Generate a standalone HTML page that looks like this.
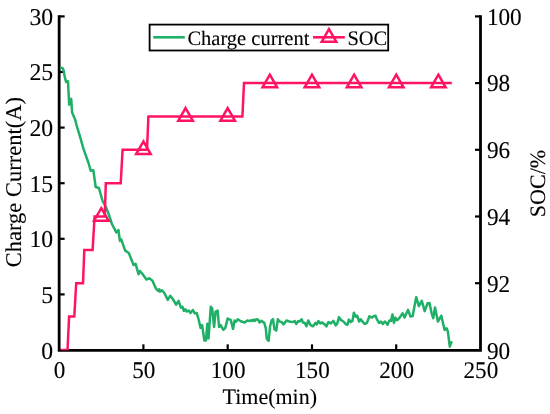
<!DOCTYPE html><html><head><meta charset="utf-8"><title>Charge current and SOC</title>
<style>html,body{margin:0;padding:0;background:#fff}svg{display:block}text{font-family:"Liberation Serif","DejaVu Serif",serif;fill:#000;stroke:#000;stroke-width:0.1px;text-rendering:geometricPrecision}</style></head><body>
<svg width="550" height="414" viewBox="0 0 550 414">
<rect width="550" height="414" fill="#fff"/>
<path d="M59.15 15.299999999999999 V350.3 H480.5 V15.299999999999999" stroke="#000" stroke-width="2.8" fill="none" stroke-linejoin="miter"/>
<text transform="translate(53.1 359.1) scale(0.98 1)" font-size="24.2" text-anchor="end">0</text>
<line x1="59.15" x2="64.65" y1="294.4" y2="294.4" stroke="#000" stroke-width="2.2"/>
<text transform="translate(53.1 302.7) scale(0.98 1)" font-size="24.2" text-anchor="end">5</text>
<line x1="59.15" x2="64.65" y1="238.8" y2="238.8" stroke="#000" stroke-width="2.2"/>
<text transform="translate(53.1 247.1) scale(0.98 1)" font-size="24.2" text-anchor="end">10</text>
<line x1="59.15" x2="64.65" y1="183.2" y2="183.2" stroke="#000" stroke-width="2.2"/>
<text transform="translate(53.1 191.5) scale(0.98 1)" font-size="24.2" text-anchor="end">15</text>
<line x1="59.15" x2="64.65" y1="127.6" y2="127.6" stroke="#000" stroke-width="2.2"/>
<text transform="translate(53.1 135.9) scale(0.98 1)" font-size="24.2" text-anchor="end">20</text>
<line x1="59.15" x2="64.65" y1="72.0" y2="72.0" stroke="#000" stroke-width="2.2"/>
<text transform="translate(53.1 80.3) scale(0.98 1)" font-size="24.2" text-anchor="end">25</text>
<line x1="59.15" x2="64.65" y1="16.4" y2="16.4" stroke="#000" stroke-width="2.2"/>
<text transform="translate(53.1 24.7) scale(0.98 1)" font-size="24.2" text-anchor="end">30</text>
<text transform="translate(486.9 359.1) scale(0.96 1)" font-size="24.2">90</text>
<line x1="480.5" x2="475.0" y1="283.2" y2="283.2" stroke="#000" stroke-width="2.2"/>
<text transform="translate(486.9 291.5) scale(0.96 1)" font-size="24.2">92</text>
<line x1="480.5" x2="475.0" y1="216.5" y2="216.5" stroke="#000" stroke-width="2.2"/>
<text transform="translate(486.9 224.8) scale(0.96 1)" font-size="24.2">94</text>
<line x1="480.5" x2="475.0" y1="149.8" y2="149.8" stroke="#000" stroke-width="2.2"/>
<text transform="translate(486.9 158.1) scale(0.96 1)" font-size="24.2">96</text>
<line x1="480.5" x2="475.0" y1="83.1" y2="83.1" stroke="#000" stroke-width="2.2"/>
<text transform="translate(486.9 91.4) scale(0.96 1)" font-size="24.2">98</text>
<line x1="480.5" x2="475.0" y1="16.4" y2="16.4" stroke="#000" stroke-width="2.2"/>
<text transform="translate(486.9 24.7) scale(0.96 1)" font-size="24.2">100</text>
<text transform="translate(59.5 378.1) scale(0.97 1)" font-size="23.9" text-anchor="middle">0</text>
<line x1="143.4" x2="143.4" y1="349.95" y2="344.34999999999997" stroke="#000" stroke-width="2.2"/>
<text transform="translate(143.8 378.1) scale(0.97 1)" font-size="23.9" text-anchor="middle">50</text>
<line x1="227.7" x2="227.7" y1="349.95" y2="344.34999999999997" stroke="#000" stroke-width="2.2"/>
<text transform="translate(228.1 378.1) scale(0.97 1)" font-size="23.9" text-anchor="middle">100</text>
<line x1="312.0" x2="312.0" y1="349.95" y2="344.34999999999997" stroke="#000" stroke-width="2.2"/>
<text transform="translate(312.4 378.1) scale(0.97 1)" font-size="23.9" text-anchor="middle">150</text>
<line x1="396.2" x2="396.2" y1="349.95" y2="344.34999999999997" stroke="#000" stroke-width="2.2"/>
<text transform="translate(396.6 378.1) scale(0.97 1)" font-size="23.9" text-anchor="middle">200</text>
<text transform="translate(480.9 378.1) scale(0.97 1)" font-size="23.9" text-anchor="middle">250</text>
<polyline fill="none" stroke="#1eb066" stroke-width="2.5" stroke-linejoin="round" stroke-linecap="round" points="61.3,67.8 62.6,68.1 63.6,70.5 64.5,75.4 65.4,79.5 66.2,82.0 68.0,81.2 69.2,104.7 71.2,98.9 72.1,112.5 75.3,120.0 76.5,125.0 79.8,135.9 83.5,148.9 88.5,163.0 90.7,170.7 93.3,170.2 95.7,187.0 98.9,188.0 102.6,201.0 105.9,207.0 109.0,215.0 111.9,224.0 116.3,232.4 118.4,230.0 119.9,240.9 121.1,239.2 125.2,250.6 128.8,253.0 133.6,265.0 135.6,263.8 138.5,274.2 139.9,271.0 142.1,273.5 146.4,279.5 149.3,278.3 152.5,280.7 155.8,288.3 158.1,290.8 159.3,289.3 160.0,291.6 162.0,290.3 164.5,293.2 167.8,299.9 170.3,295.7 172.8,299.0 176.1,304.7 178.6,300.9 180.9,307.6 182.4,306.7 183.8,310.9 185.3,309.2 186.7,311.5 188.6,310.5 190.5,312.9 192.9,310.0 194.8,313.4 196.7,312.9 198.3,318.3 200.6,327.9 202.1,325.0 204.4,340.5 206.0,340.5 207.3,323.7 208.5,338.5 210.8,306.7 212.2,308.6 214.1,327.0 215.6,311.5 217.6,310.5 219.1,327.0 220.5,325.0 223.4,329.8 225.3,327.9 227.6,318.6 230.7,319.8 233.0,328.9 234.6,320.6 235.9,321.7 237.8,319.2 240.7,321.2 244.6,322.5 247.3,320.5 249.8,321.1 251.2,320.2 252.7,320.9 253.7,319.6 255.0,320.9 256.2,319.2 258.1,319.6 259.5,322.5 261.4,320.9 264.3,322.9 265.8,328.3 266.8,338.9 268.6,340.8 270.1,326.3 271.6,320.5 273.0,319.2 274.5,329.2 276.3,330.6 277.8,319.2 279.7,321.5 281.7,322.1 283.6,324.4 286.5,320.5 289.4,321.5 292.3,322.1 294.8,321.1 296.2,324.0 298.1,321.1 299.6,321.5 301.6,319.2 302.9,322.5 304.8,322.9 306.4,326.3 308.3,320.5 310.3,324.8 313.0,326.3 315.5,322.9 316.8,324.4 318.4,321.1 320.3,323.4 322.2,322.5 325.1,324.8 326.5,326.3 328.4,322.1 330.9,323.4 333.4,320.9 335.7,325.4 337.3,323.4 339.0,317.1 341.1,320.2 343.5,321.5 345.6,324.0 347.5,324.8 348.9,319.6 350.8,322.1 352.4,320.9 353.9,312.8 355.8,316.7 357.2,315.7 359.1,321.5 360.7,319.2 363.0,322.1 364.9,324.0 366.9,322.9 369.4,316.3 371.7,317.6 373.6,316.3 375.5,315.7 377.1,319.6 379.0,322.9 380.9,321.5 382.9,324.0 384.8,321.5 386.2,322.9 387.5,324.8 389.4,320.5 391.0,320.9 392.5,314.4 393.9,322.9 395.4,317.6 397.2,320.2 399.7,317.6 402.6,313.2 404.5,317.6 408.0,309.9 410.5,316.5 412.7,316.0 414.5,306.1 416.2,297.2 418.9,306.1 421.8,300.8 424.7,311.1 427.6,303.2 429.5,303.0 431.5,312.8 433.2,318.2 435.0,307.5 437.9,321.5 441.3,315.7 444.6,329.9 446.6,328.3 447.9,331.8 449.8,346.7 451.4,342.2"/>
<clipPath id="plotclip"><rect x="60.6" y="0" width="440" height="350.3"/></clipPath>
<polyline clip-path="url(#plotclip)" fill="none" stroke="#ff1464" stroke-width="2.5" stroke-linejoin="miter" points="59.8,349.9 67.5,349.9 69.1,316.6 74.3,316.6 76.2,283.2 83.0,283.2 84.3,249.9 92.6,249.9 94.6,216.5 104.8,216.5 105.8,183.2 120.7,183.2 122.6,149.8 147.0,149.8 148.4,116.5 242.4,116.5 244.0,83.1 451.8,83.1"/>
<path d="M101.28 208.13 L108.56 220.73 L94.01 220.73 Z" fill="none" stroke="#ff1464" stroke-width="2.5" stroke-linejoin="miter"/>
<path d="M143.42 141.42 L150.69 154.02 L136.15 154.02 Z" fill="none" stroke="#ff1464" stroke-width="2.5" stroke-linejoin="miter"/>
<path d="M185.56 108.06 L192.83 120.67 L178.28 120.67 Z" fill="none" stroke="#ff1464" stroke-width="2.5" stroke-linejoin="miter"/>
<path d="M227.69 108.06 L234.96 120.67 L220.42 120.67 Z" fill="none" stroke="#ff1464" stroke-width="2.5" stroke-linejoin="miter"/>
<path d="M269.82 74.71 L277.10 87.31 L262.55 87.31 Z" fill="none" stroke="#ff1464" stroke-width="2.5" stroke-linejoin="miter"/>
<path d="M311.96 74.71 L319.23 87.31 L304.69 87.31 Z" fill="none" stroke="#ff1464" stroke-width="2.5" stroke-linejoin="miter"/>
<path d="M354.09 74.71 L361.37 87.31 L346.82 87.31 Z" fill="none" stroke="#ff1464" stroke-width="2.5" stroke-linejoin="miter"/>
<path d="M396.23 74.71 L403.50 87.31 L388.96 87.31 Z" fill="none" stroke="#ff1464" stroke-width="2.5" stroke-linejoin="miter"/>
<path d="M438.36 74.71 L445.64 87.31 L431.09 87.31 Z" fill="none" stroke="#ff1464" stroke-width="2.5" stroke-linejoin="miter"/>
<text x="269.8" y="404" font-size="22" text-anchor="middle">Time(min)</text>
<text transform="translate(20.6 182.2) rotate(-90)" font-size="22.5" text-anchor="middle">Charge Current(A)</text>
<text transform="translate(545 183.5) rotate(-90)" font-size="22" text-anchor="middle">SOC/%</text>
<rect x="149.6" y="24.6" width="238.6" height="25.9" fill="#fff" stroke="#000" stroke-width="1.8"/>
<line x1="153.2" x2="184.8" y1="37.3" y2="37.3" stroke="#1eb066" stroke-width="2.6"/>
<text x="187.4" y="44.7" font-size="20.5">Charge current</text>
<line x1="313" x2="344.8" y1="37.3" y2="37.3" stroke="#ff1464" stroke-width="2.6"/>
<path d="M329.00 29.10 L336.27 41.70 L321.73 41.70 Z" fill="none" stroke="#ff1464" stroke-width="2.5" stroke-linejoin="miter"/>
<text x="347.4" y="44.7" font-size="20.5">SOC</text>
</svg></body></html>
